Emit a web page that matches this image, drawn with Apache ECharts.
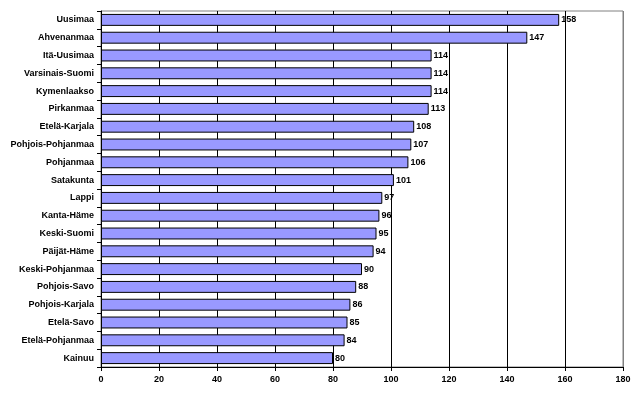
<!DOCTYPE html>
<html>
<head>
<meta charset="utf-8">
<script src="https://cdn.jsdelivr.net/npm/echarts@6/dist/echarts.min.js"></script>
<style>
  html, body { margin: 0; padding: 0; background: #fff; }
  #chart { width: 642px; height: 398px; }
</style>
</head>
<body>
<div id="chart"></div>
<script>
// maakunnat ylhäältä alas
var regions = ['Uusimaa', 'Ahvenanmaa', 'Itä-Uusimaa', 'Varsinais-Suomi', 'Kymenlaakso', 'Pirkanmaa',
  'Etelä-Karjala', 'Pohjois-Pohjanmaa', 'Pohjanmaa', 'Satakunta', 'Lappi', 'Kanta-Häme',
  'Keski-Suomi', 'Päijät-Häme', 'Keski-Pohjanmaa', 'Pohjois-Savo', 'Pohjois-Karjala',
  'Etelä-Savo', 'Etelä-Pohjanmaa', 'Kainuu'];
var values = [158, 147, 114, 114, 114, 113, 108, 107, 106, 101, 97, 96, 95, 94, 90, 88, 86, 85, 84, 80];

var chart = echarts.init(document.getElementById('chart'));
var font = { fontFamily: 'Liberation Sans, Arial, sans-serif', fontWeight: 'bold', fontSize: 9, color: '#000' };

var option = {
    animation: false,
    grid: {
        left: 101, right: 19, top: 11, bottom: 31,
        show: true,
        borderColor: '#808080',
        borderWidth: 1
    },
    xAxis: {
        type: 'value',
        min: 0,
        max: 180,
        interval: 20,
        axisLine: { show: true, lineStyle: { color: '#000', width: 1 } },
        axisTick: { show: true, length: 4, lineStyle: { color: '#000' } },
        axisLabel: Object.assign({ margin: 8 }, font),
        splitLine: {
            show: true,
            // viimeinen viiva on harmaa reunaviiva
            lineStyle: { color: ['#000', '#000', '#000', '#000', '#000', '#000', '#000', '#000', '#000', '#808080'], width: 1 }
        }
    },
    yAxis: {
        type: 'category',
        inverse: true,
        data: regions,
        axisLine: { show: true, lineStyle: { color: '#000', width: 1 } },
        axisTick: { show: true, length: 4, lineStyle: { color: '#000' } },
        axisLabel: Object.assign({ margin: 7 }, font),
        splitLine: { show: false }
    },
    series: [{
        type: 'bar',
        data: values,
        barCategoryGap: '33%',
        itemStyle: { color: '#9999FF', borderColor: '#000', borderWidth: 1 },
        label: Object.assign({ show: true, position: 'right', distance: 2 }, font)
    }]
};
chart.setOption(option);
</script>
</body>
</html>
